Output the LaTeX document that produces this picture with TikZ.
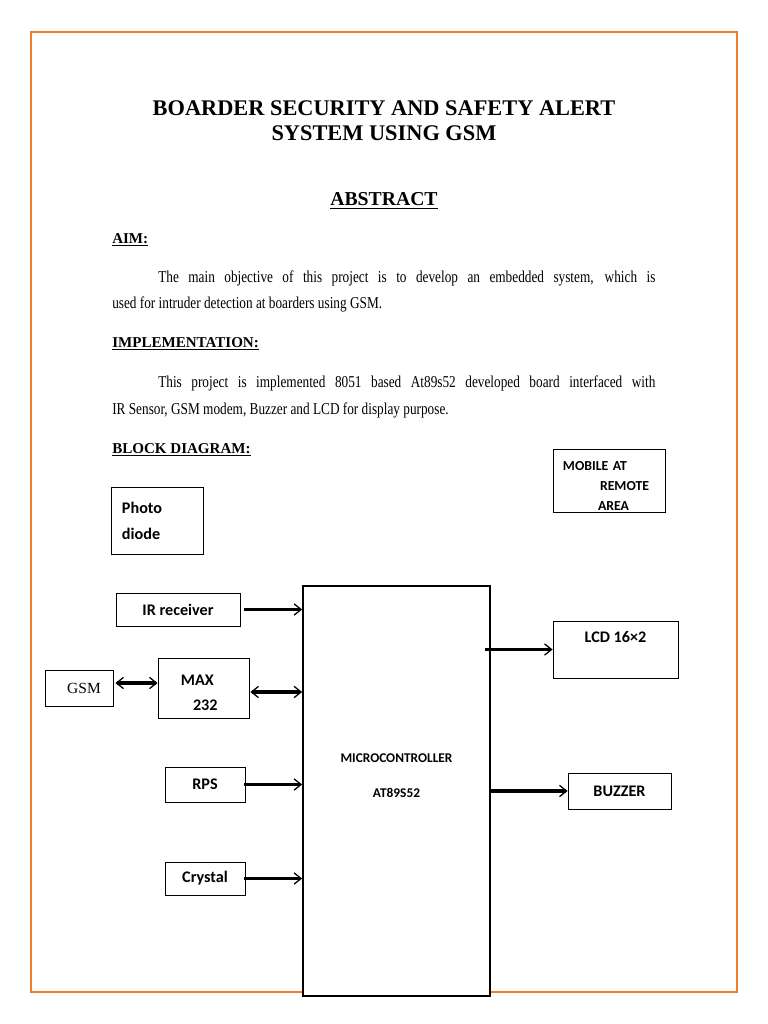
\documentclass[tikz,border=0pt]{standalone}
\usepackage{fontspec}
\setmainfont{Liberation Serif}
\newfontfamily\boxfont{Carlito}
\newfontfamily\bodyfont[FakeStretch=0.8]{Liberation Serif}
\definecolor{frameorange}{RGB}{237,125,49}
\usepackage{tikz}
\usetikzlibrary{arrows.meta, calc}

\begin{document}
\begin{tikzpicture}[x=0.025cm, y=-0.025cm,
  blk/.style={draw, line width=0.6pt, inner sep=0pt, font=\boxfont\bfseries\fontsize{11.5}{14}\selectfont},
  arr/.style={line width=2.6pt, -{Straight Barb[length=5pt, width=8pt, line width=0.9pt]}},
  darr/.style={line width=2.6pt, {Straight Barb[length=5pt, width=8pt, line width=0.9pt]}-{Straight Barb[length=5pt, width=8pt, line width=0.9pt]}},
  head/.style={anchor=base west, inner sep=0pt, font=\bfseries\fontsize{10.7}{13}\selectfont},
  body/.style={anchor=base west, inner sep=0pt, font=\bodyfont\fontsize{11.8}{13}\selectfont}]
  \useasboundingbox (0,0) rectangle (768,1024);

  % Page frame
  \draw[frameorange, line width=1.3pt] (31,32) rectangle (737,992);

  % Title and text
  \node[align=center, inner sep=0pt, anchor=north, font=\bfseries\fontsize{15.9}{18.4}\selectfont] (title) at (384,100) {BOARDER SECURITY AND SAFETY ALERT\\SYSTEM USING GSM};
  \node[anchor=base, inner sep=0pt, font=\bfseries\fontsize{14}{16}\selectfont] (abstract) at (384,206) {\underline{ABSTRACT}};
  \node[head] (aim) at (112,243) {\underline{AIM:}};
  \node[body] (aimtext1) at (158,282) {\makebox[12.425cm][s]{The main objective of this project is to develop an embedded system, which is}};
  \node[body] (aimtext2) at (112,308) {used for intruder detection at boarders using GSM.};
  \node[head] (impl) at (112,347) {\underline{IMPLEMENTATION:}};
  \node[body] (impltext1) at (158,387) {\makebox[12.425cm][s]{This project is implemented 8051 based At89s52 developed board interfaced with}};
  \node[body] (impltext2) at (112,414) {IR Sensor, GSM modem, Buzzer and LCD for display purpose.};
  \node[head] (blockhead) at (112,453) {\underline{BLOCK DIAGRAM:}};

  % Blocks
  \node[blk, minimum width=2.3cm, minimum height=1.675cm, text width=1.75cm, align=left, font=\boxfont\bfseries\fontsize{11.5}{18.4}\selectfont] (photo) at (157,520.5) {Photo\\diode};
  \node[blk, minimum width=2.8cm, minimum height=1.575cm, text width=2.3cm, align=left, font=\boxfont\bfseries\fontsize{9.8}{14.4}\selectfont] (mobile) at (609,480.5) {\rule{0pt}{14pt}MOBILE AT\\\hspace*{0.925cm}REMOTE\\\hspace*{0.875cm}AREA};
  \node[blk, minimum width=3.1cm, minimum height=0.825cm] (irrx) at (178,609.5) {IR receiver};
  \node[blk, line width=1.2pt, fill=white, minimum width=4.675cm, minimum height=10.25cm, align=center, text height=1.125cm, text depth=0.825cm, font=\boxfont\bfseries\fontsize{9.5}{24.8}\selectfont] (mcu) at (396.5,791) {MICROCONTROLLER\\AT89S52};
  \node[blk, font=\normalfont\fontsize{11}{13}\selectfont, minimum width=1.7cm, minimum height=0.9cm] (gsm) at (79,688) {\hspace*{0.25cm}GSM};
  \node[blk, minimum width=2.275cm, minimum height=1.5cm, text width=1.125cm, align=left, font=\boxfont\bfseries\fontsize{11.5}{17.7}\selectfont] (max) at (203.5,688) {\rule{0pt}{14.5pt}MAX\\\hspace*{0.3cm}232};
  \node[blk, minimum width=3.125cm, minimum height=1.425cm, text height=0.3cm, text depth=0.675cm] (lcd) at (615.5,649.5) {LCD 16×2};
  \node[blk, minimum width=2cm, minimum height=0.875cm] (rps) at (205,784.5) {RPS};
  \node[blk, minimum width=2cm, minimum height=0.825cm] (crystal) at (205,878.5) {Crystal};
  \node[blk, minimum width=2.575cm, minimum height=0.9cm] (buzzer) at (619.5,791) {BUZZER};

  % Connectors
  \draw[arr] ($(irrx.east)+(4,0)$) -- (irrx.east -| mcu.west);
  \draw[darr] ($(gsm.east)+(2,-5)$) -- ($(gsm.east -| max.west)+(0,-5)$);
  \draw[darr] ($(max.east)+(1,4)$) -- ($(max.east -| mcu.west)+(0,4)$);
  \draw[arr] ($(rps.east)+(-1,0)$) -- (rps.east -| mcu.west);
  \draw[arr] ($(crystal.east)+(-1,0)$) -- (crystal.east -| mcu.west);
  \draw[arr] ($(lcd.west -| mcu.east)+(-6,0)$) -- (lcd.west);
  \draw[arr] (buzzer.west -| mcu.east) -- (buzzer.west);
\end{tikzpicture}
\end{document}
